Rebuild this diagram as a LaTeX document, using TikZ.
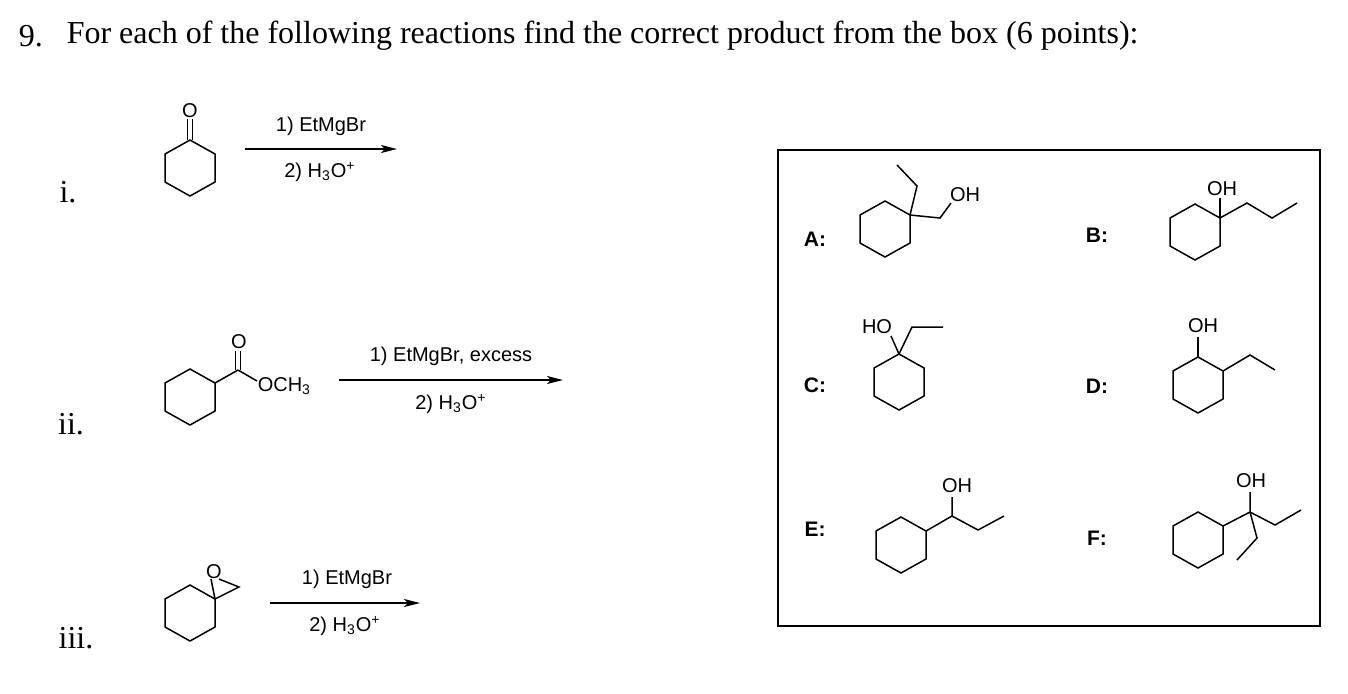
\documentclass[tikz,border=0pt]{standalone}
\usepackage{fontspec}
\setmainfont{Liberation Serif}
\setsansfont{Liberation Sans}
\usetikzlibrary{arrows.meta}
\begin{document}
\begin{tikzpicture}[x=0.5pt,y=-0.5pt,line width=0.75pt,
  lab/.style={font=\sffamily\fontsize{10}{12}\selectfont,inner sep=0pt},
  boxlab/.style={font=\sffamily\bfseries\fontsize{10.5}{12}\selectfont,inner sep=0pt},
  num/.style={font=\fontsize{16}{18}\selectfont,inner sep=0pt},
  rxn/.style={-{Stealth[length=8pt,width=4pt,inset=2pt]}}]
\useasboundingbox (0,0) rectangle (1348,693);
\newcommand{\hexa}[2]{\draw[shift={(#1,#2)}] (0,-28)--(25,-14)--(25,14)--(0,28)--(-25,14)--(-25,-14)--cycle;}
% title
\node[num,anchor=west] (n9) at (18,36) {9.};
\node[num,anchor=west] (title) at (66,36) {For each of the following reactions find the correct product from the box (6 points):};
\node[num] (ri) at (68,192) {i.};
\node[num] (rii) at (71,424) {ii.};
\node[num] (riii) at (76,638) {iii.};
% reaction i
\hexa{190}{168}
\node[lab] (oi) at (190,111) {O};
\draw (187.5,140)--(187.5,119) (192.5,140)--(192.5,119);
\coordinate (ai1) at (245,149); \coordinate (ai2) at (397,149);
\draw[rxn] (ai1)--(ai2);
\node[lab] at (321,126) {1) EtMgBr};
\node[lab] at (320,172) {2) H\textsubscript{3}O\textsuperscript{+}};
% reaction ii
\hexa{190}{397}
\draw (215,383)--(238,370);
\draw (235.5,370)--(235.5,351) (240.5,370)--(240.5,351);
\node[lab] at (239,342) {O};
\draw (238,370)--(257,381);
\node[lab,anchor=west] at (257,386) {OCH\textsubscript{3}};
\draw[rxn] (339,380)--(563,380);
\node[lab] at (451,356) {1) EtMgBr, excess};
\node[lab] at (451,404) {2) H\textsubscript{3}O\textsuperscript{+}};
% reaction iii
\hexa{190}{613}
\draw (215,599)--(211,579) (219,579)--(239,587)--(215,599);
\node[lab] at (214,572) {O};
\draw[rxn] (270,603)--(420,603);
\node[lab] at (347,579) {1) EtMgBr};
\node[lab] at (345,626) {2) H\textsubscript{3}O\textsuperscript{+}};
% box
\draw (778,150) rectangle (1320,626);
% A
\node[boxlab] at (815,239) {A:};
\hexa{885}{229}
\draw (910,215)--(917,186)--(897,165);
\draw (910,215)--(940,218)--(951,203);
\node[lab] at (965,195) {OH};
% B
\node[boxlab] at (1097,235) {B:};
\hexa{1195}{232}
\draw (1220,218)--(1220,198);
\node[lab] at (1222,189) {OH};
\draw (1220,218)--(1247,203)--(1272,218)--(1297,203);
% C
\node[boxlab] at (815,385) {C:};
\hexa{899}{382}
\draw (899,354)--(891,336);
\node[lab] at (877,327) {HO};
\draw (899,354)--(912,327)--(943,327);
% D
\node[boxlab] at (1097,386) {D:};
\hexa{1198}{385}
\draw (1198,357)--(1198,337);
\node[lab] at (1203,326) {OH};
\draw (1223,371)--(1250,355)--(1275,370);
% E
\node[boxlab] at (815,529) {E:};
\hexa{901}{545}
\draw (926,531)--(952,516)--(952,497);
\node[lab] at (957,486) {OH};
\draw (952,516)--(978,530)--(1004,516);
% F
\node[boxlab] at (1097,538) {F:};
\hexa{1198}{540}
\draw (1223,526)--(1250,512)--(1250,492);
\node[lab] at (1251,481) {OH};
\draw (1250,512)--(1275,525)--(1301,510);
\draw (1250,512)--(1257,538)--(1237,560);
\end{tikzpicture}
\end{document}
